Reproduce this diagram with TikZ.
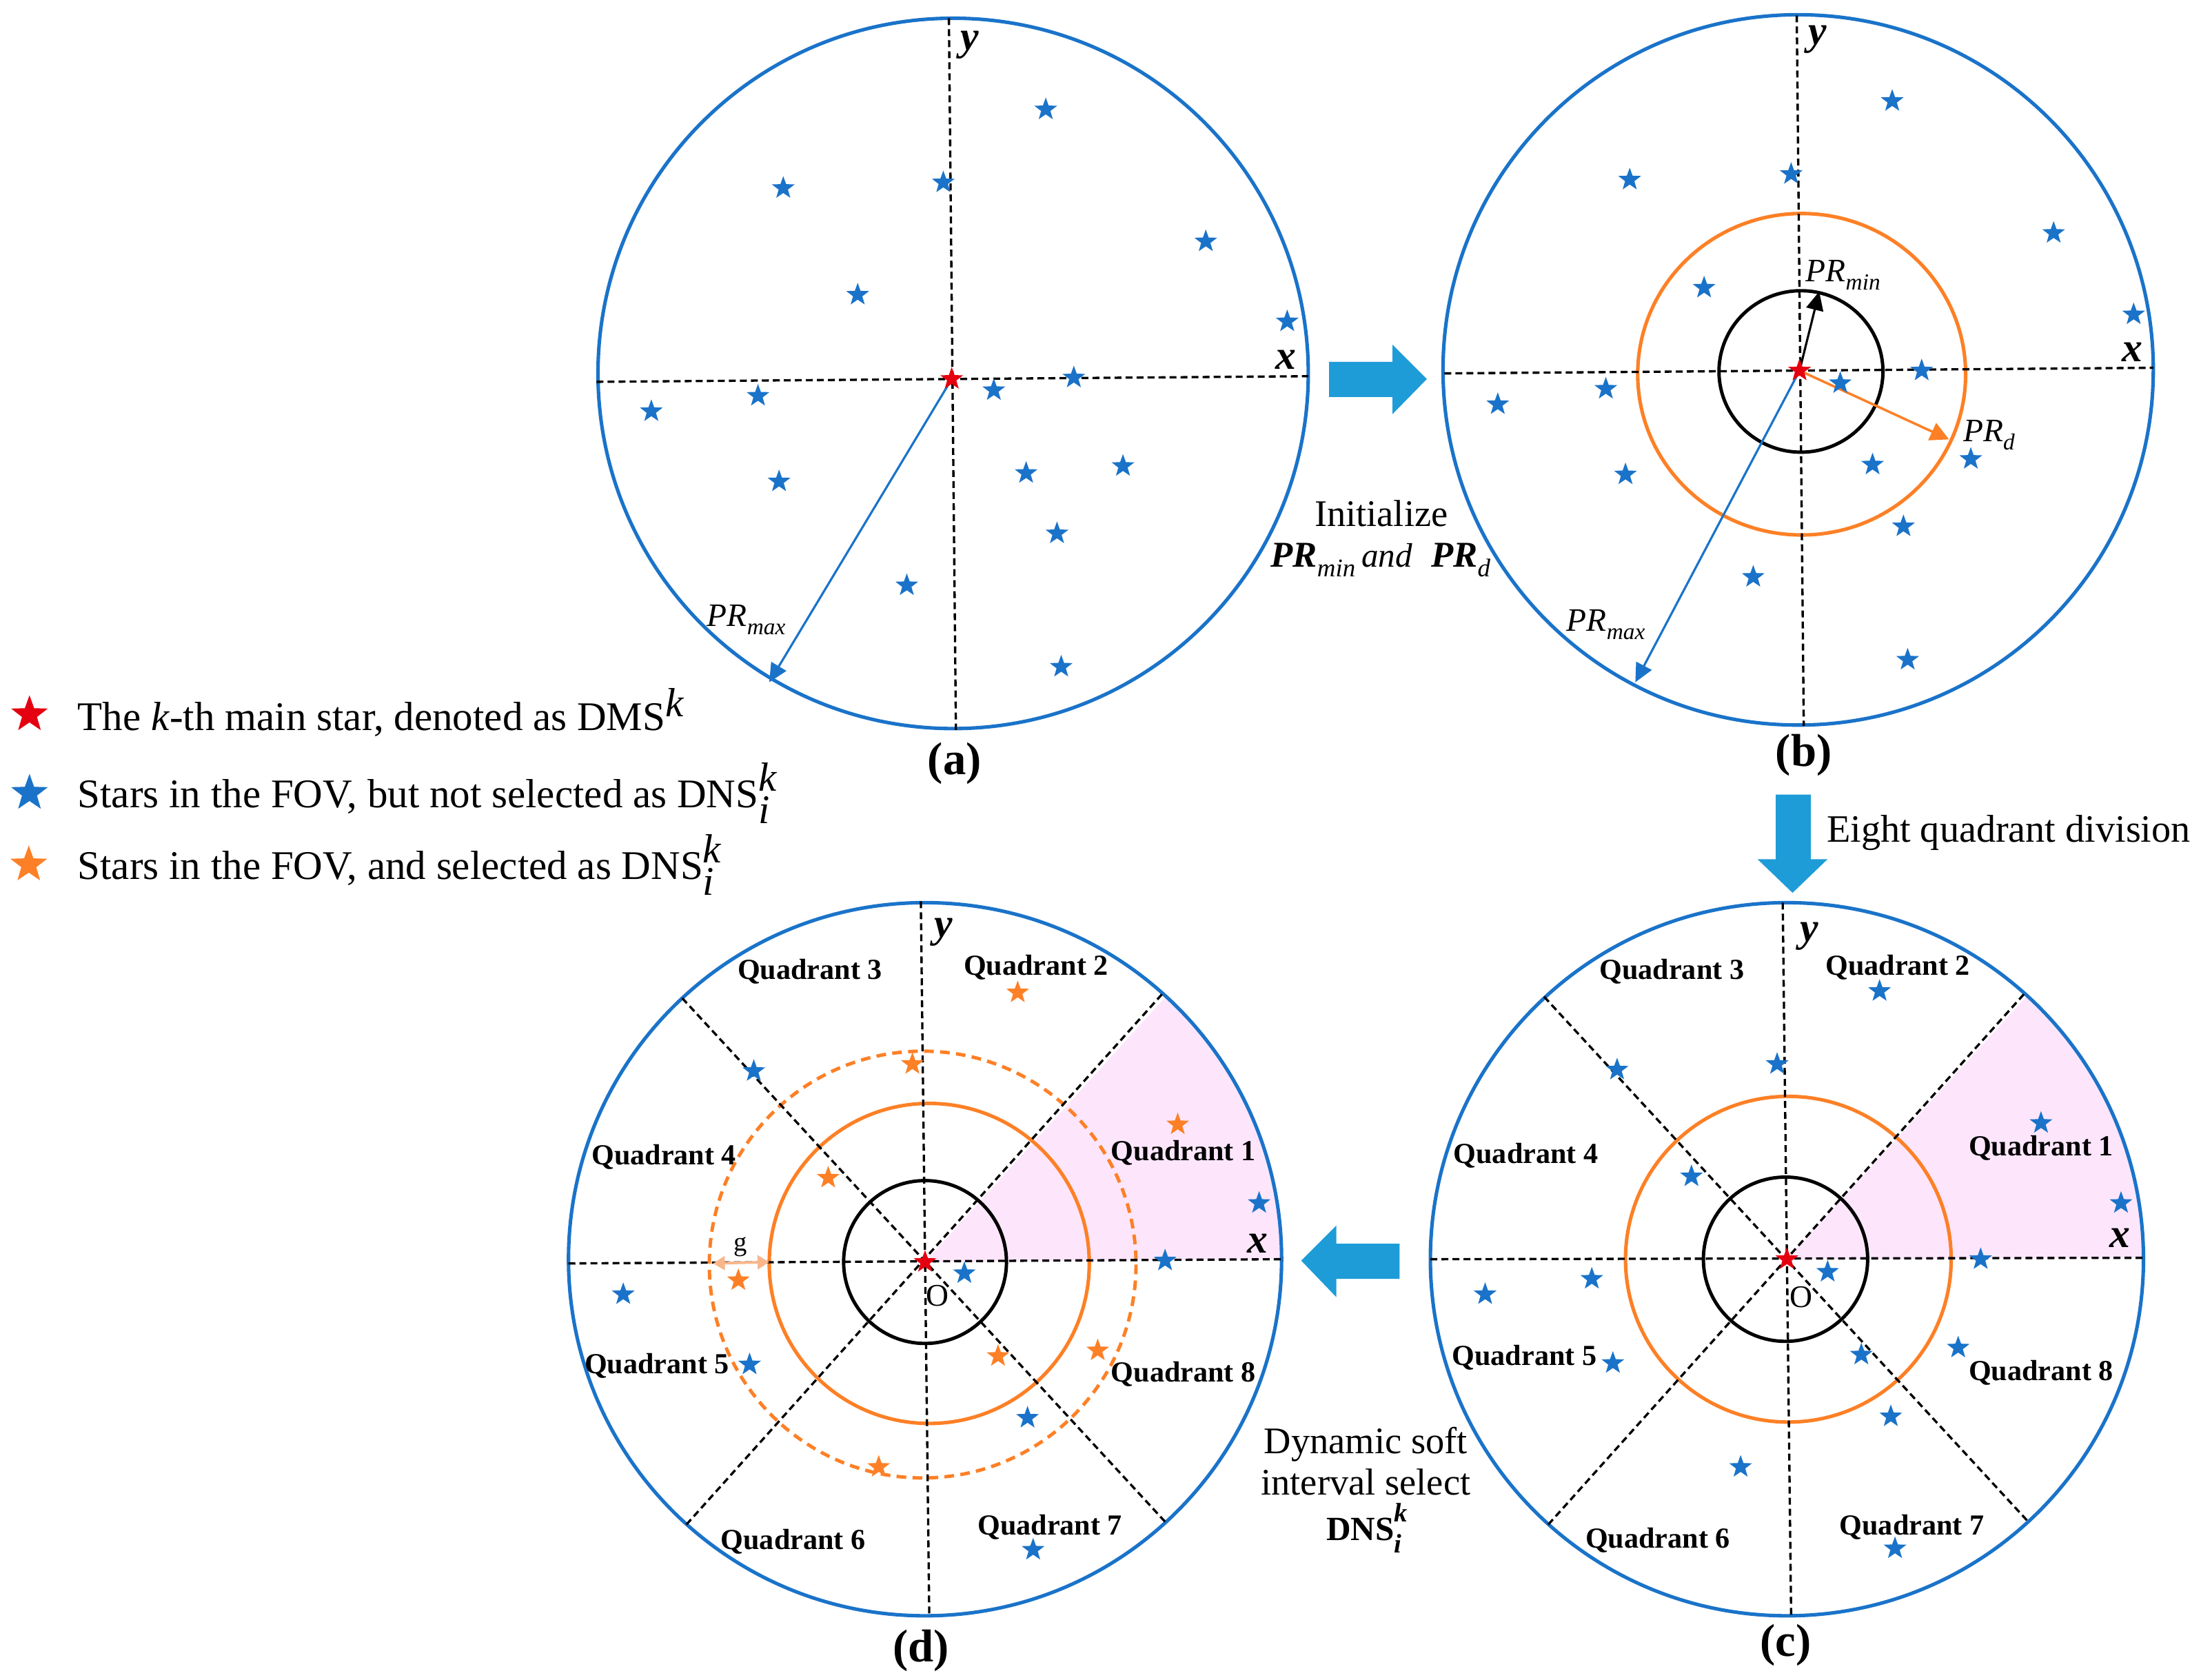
\documentclass[tikz,border=0pt]{standalone}
\usepackage{fontspec}
\setmainfont{Liberation Serif}
\usetikzlibrary{shapes.geometric,arrows.meta}
\definecolor{cblue}{HTML}{1A73C9}
\definecolor{corange}{HTML}{FD8026}
\definecolor{cred}{HTML}{E40010}
\definecolor{cpink}{HTML}{FDE6FC}
\definecolor{carrow}{HTML}{1E9CD8}
\definecolor{cgap}{HTML}{F9B68A}
\newcommand{\fs}[1]{\fontsize{#1pt}{#1pt}\selectfont}
\newcommand{\PRsub}[3]{{\fs{#1}\itshape PR\raisebox{-.26em}{\mdseries\fs{#2}#3}}}
\newcommand{\supsub}[2]{\mbox{\mdseries\itshape\rlap{\raisebox{.42em}{\fs{16.8}#1}}\raisebox{-.38em}{\fs{16.8}#2}}}
\tikzset{
  x=0.020364cm,y=-0.020364cm,
  starshape/.style={star,star points=5,star point ratio=2.45,inner sep=0pt,outer sep=0pt,draw=none,minimum size=0.347cm},
  bluestar/.style={starshape,fill=cblue},
  orangestar/.style={starshape,fill=corange},
  redstar/.style={starshape,fill=cred},
  bigstar/.style={minimum size=0.56cm},
  bigcircle/.style={draw=cblue,line width=1.45pt},
  orangecircle/.style={draw=corange,line width=1.45pt},
  blackcircle/.style={draw=black,line width=1.4pt},
  softcircle/.style={draw=corange,line width=1.4pt,dash pattern=on 4pt off 2.6pt},
  axisline/.style={draw=black,line width=.95pt,dash pattern=on 2.85pt off 1.7pt},
  radius blue/.style={draw=cblue,line width=.9pt,-{Triangle[length=2.7mm,width=2.5mm]}},
  radius black/.style={draw=black,line width=.9pt,-{Triangle[length=2.7mm,width=2.5mm]}},
  radius orange/.style={draw=corange,line width=1pt,-{Triangle[length=2.7mm,width=2.7mm]}},
  gaparrow/.style={draw=cgap,line width=1.1pt,{Triangle[length=1.7mm,width=2mm]}-{Triangle[length=1.7mm,width=2mm]}},
  flowarrow/.style={fill=carrow,draw=none},
  axislabel/.style={inner sep=0pt,font=\fs{17}\bfseries\itshape},
  quad/.style={inner sep=0pt,font=\fs{12}\bfseries},
  panel/.style={inner sep=0pt,font=\fs{19}\bfseries},
  note/.style={inner sep=0pt,font=\fs{15.5}},
  legend/.style={inner sep=0pt,anchor=base west,font=\fs{16.8}},
}
\begin{document}
\begin{tikzpicture}
\useasboundingbox (0,0) rectangle (1568,1196.7);
\fill[white] (0,0) rectangle (1568,1196.7);

% ---------- panel a
\coordinate (aC) at (678,270);
\coordinate (aL) at (425,272);\coordinate (aR) at (932,268);
\coordinate (aT) at (676,13);\coordinate (aB) at (681,520);
\coordinate (aE) at (548,486);
\draw[bigcircle] (679,266) circle[radius=253];
\draw[axisline] (aL) -- (aR);
\draw[axisline] (aT) -- (aB);
\draw[radius blue] (aC) -- (aE);
\foreach \x/\y [count=\i] in {745/78,672/130,558/134,859/172,611/210,917/229,765/269,708/278,540/282,464/293,555/343,731/337,800/332,753/380,646/417,756/475}
  \node[bluestar] (a\i) at (\x,\y) {};
\node[redstar] (aO) at (aC) {};
\node[axislabel] (ay) at (691,32) {y};
\node[axislabel] (ax) at (916,256) {x};
\node[inner sep=0pt,anchor=base west] (apr) at (503.4,446) {\PRsub{13.5}{9.5}{max}};
\node[panel] (apanel) at (680,544) {(a)};

% ---------- panel b
\coordinate (bC) at (1282,264);
\coordinate (bL) at (1029,266);\coordinate (bR) at (1534,262);
\coordinate (bT) at (1280,11);\coordinate (bB) at (1285,517);
\coordinate (bE) at (1165,486);
\coordinate (bEmin) at (1296,207.7);
\coordinate (bEd) at (1388.5,313);
\draw[bigcircle] (1281,263.5) circle[radius=253];
\draw[orangecircle] (1283.5,266.6) ellipse[x radius=116.8,y radius=114.5];
\draw[blackcircle] (1283,264.6) ellipse[x radius=58.4,y radius=57.5];
\draw[axisline] (bL) -- (bR);
\draw[axisline] (bT) -- (bB);
\draw[radius blue] (bC) -- (bE);
\draw[radius black] (bC) -- (bEmin);
\draw[radius orange] (bC) -- (bEd);
\foreach \x/\y [count=\i] in {1348/72,1276/124,1161/128,1463/166,1214/205,1520/224,1369/264,1311/273,1144/277,1067/288,1158/338,1334/331,1404/327,1356/375,1249/411,1359/470}
  \node[bluestar] (b\i) at (\x,\y) {};
\node[redstar] (bO) at (bC) {};
\node[axislabel] (by) at (1295,28) {y};
\node[axislabel] (bx) at (1519,251) {x};
\node[inner sep=0pt] (bprmin) at (1313,196) {\PRsub{13.5}{9.5}{min}};
\node[inner sep=0pt] (bprd) at (1417,310) {\PRsub{13.5}{9.5}{d}};
\node[inner sep=0pt] (bprmax) at (1144,445) {\PRsub{13.5}{9.5}{max}};
\node[panel] (bpanel) at (1285,538) {(b)};

% ---------- panel c
\coordinate (cC) at (1273,897);
\coordinate (cL) at (1019,897);\coordinate (cR) at (1527,896);
\coordinate (cT) at (1270,643);\coordinate (cB) at (1276,1151);
\coordinate (cA) at (1100,710);\coordinate (cD) at (1444,1083);
\coordinate (cF) at (1103,1086);\coordinate (cG) at (1442,708);
\fill[cpink] (cC) -- (cR) arc[start angle=0,end angle=-47.5,radius=254] -- cycle;
\draw[bigcircle] (1273,897) circle[radius=254];
\draw[orangecircle] (1274,897) circle[radius=116];
\draw[blackcircle] (1272,897) circle[radius=58.5];
\draw[axisline] (cL) -- (cR);
\draw[axisline] (cT) -- (cB);
\draw[axisline] (cA) -- (cD);
\draw[axisline] (cF) -- (cG);
\foreach \x/\y [count=\i] in {1339/706,1266/758,1152/762,1454/800,1205/838,1511/857,1411/897,1302/906,1134/911,1058/922,1149/971,1326/965,1395/960,1347/1009,1240/1045,1350/1103}
  \node[bluestar] (c\i) at (\x,\y) {};
\node[redstar] (cO) at (cC) {};
\node[axislabel] (cy) at (1289,667) {y};
\node[axislabel] (cx) at (1510,882) {x};
\node[inner sep=0pt,font=\fs{13}] (co) at (1283,924) {O};
\node[quad] (cq1) at (1454,818) {Quadrant 1};
\node[quad] (cq2) at (1352,689) {Quadrant 2};
\node[quad] (cq3) at (1191,692) {Quadrant 3};
\node[quad] (cq4) at (1087,823) {Quadrant 4};
\node[quad] (cq5) at (1086,967) {Quadrant 5};
\node[quad] (cq6) at (1181,1097) {Quadrant 6};
\node[quad] (cq7) at (1362,1088) {Quadrant 7};
\node[quad] (cq8) at (1454,978) {Quadrant 8};
\node[panel] (cpanel) at (1272,1172) {(c)};

% ---------- panel d
\coordinate (dC) at (659,899);
\coordinate (dL) at (405,900);\coordinate (dR) at (913,897);
\coordinate (dT) at (656,642);\coordinate (dB) at (662,1151);
\coordinate (dA) at (486,711);\coordinate (dD) at (830,1084);
\coordinate (dF) at (489,1086);\coordinate (dG) at (828,708);
\coordinate (dGl) at (508,900);\coordinate (dGr) at (548,899);
\fill[cpink] (dC) -- (dR) arc[start angle=0,end angle=-47.5,radius=254] -- cycle;
\draw[bigcircle] (659,897) circle[radius=254];
\draw[orangecircle] (662,900) circle[radius=114];
\draw[blackcircle] (659,899) circle[radius=58];
\draw[softcircle] (657.3,900.8) circle[radius=152];
\draw[axisline] (dL) -- (dR);
\draw[axisline] (dT) -- (dB);
\draw[axisline] (dA) -- (dD);
\draw[axisline] (dF) -- (dG);
\draw[gaparrow] (dGl) -- (dGr);
\foreach \x/\y [count=\i] in {537/763,687/907,444/922,534/972,830/898,897/857,732/1010,736/1104}
  \node[bluestar] (db\i) at (\x,\y) {};
\foreach \x/\y [count=\i] in {725/707,650/758,839/801,590/839,526/912,711/966,782/962,626/1045}
  \node[orangestar] (do\i) at (\x,\y) {};
\node[redstar] (dO) at (dC) {};
\node[axislabel] (dy) at (672,664) {y};
\node[axislabel] (dx) at (896,886) {x};
\node[inner sep=0pt,font=\fs{13}] (dolab) at (668,923) {O};
\node[inner sep=0pt,font=\fs{11}] (dg) at (527.5,888) {g};
\node[quad] (dq1) at (843,821) {Quadrant 1};
\node[quad] (dq2) at (738,689) {Quadrant 2};
\node[quad] (dq3) at (577,692) {Quadrant 3};
\node[quad] (dq4) at (473,824) {Quadrant 4};
\node[quad] (dq5) at (468,973) {Quadrant 5};
\node[quad] (dq6) at (565,1098) {Quadrant 6};
\node[quad] (dq7) at (748,1088) {Quadrant 7};
\node[quad] (dq8) at (843,979) {Quadrant 8};
\node[panel] (dpanel) at (656,1176) {(d)};

% ---------- flow arrows
\fill[flowarrow] (946.8,257.8) -- (992,257.8) -- (992,245.5) -- (1016.5,270) -- (992,295) -- (992,282.8) -- (946.8,282.8) -- cycle;
\fill[flowarrow] (1265,566) -- (1290,566) -- (1290,612) -- (1302,612) -- (1277,636) -- (1252,612) -- (1265,612) -- cycle;
\fill[flowarrow] (997,886) -- (952,886) -- (952,873) -- (927,898) -- (952,924) -- (952,911) -- (997,911) -- cycle;

% ---------- captions of the arrows
\node[note,anchor=base] (init) at (984,374.8) {Initialize};
\node[note,anchor=base west] (initb) at (905,404) {{\bfseries\PRsub{15}{10.5}{min}}\,{\fs{14}\itshape and}\ \ {\bfseries\PRsub{15}{10.5}{d}}};
\node[note,anchor=base west] (eight) at (1301,600) {\fs{16}Eight quadrant division};
\node[note,anchor=base] (dyn1) at (973,1035.4) {Dynamic soft};
\node[note,anchor=base] (dyn2) at (973,1064.7) {interval select};
\node[inner sep=0pt,anchor=base west,font=\fs{14}\bfseries] (dyn3) at (944.5,1097.5) {DNS\mbox{\itshape\rlap{\raisebox{.55em}{\fs{11}k}}\raisebox{-.35em}{\fs{11}i}}};

% ---------- legend
\node[redstar,bigstar] (l1) at (21,509) {};
\node[bluestar,bigstar] (l2) at (21,565) {};
\node[orangestar,bigstar] (l3) at (20.5,616) {};
\node[legend] (t1) at (55,520.5) {The \textit{k}-th main star, denoted as DMS\raisebox{.34em}{\fs{16.8}\itshape k}};
\node[legend] (t2) at (55,575.5) {Stars in the FOV, but not selected as DNS\supsub{k}{i}};
\node[legend] (t3) at (55,626.6) {Stars in the FOV, and selected as DNS\supsub{k}{i}};
\end{tikzpicture}
\end{document}
